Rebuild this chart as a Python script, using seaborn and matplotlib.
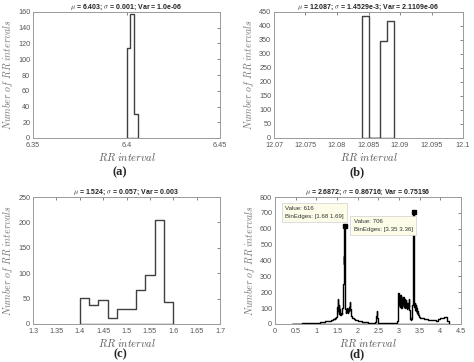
import numpy as np
import matplotlib
matplotlib.use("Agg")
import matplotlib.pyplot as plt
import seaborn as sns

sns.set_style("white")
plt.rcParams['font.family'] = ['Liberation Sans', 'DejaVu Sans']
plt.rcParams['mathtext.fontset'] = 'cm'

# ---- data ----
a_edges = [6.4000, 6.4018, 6.4027, 6.4041, 6.4060]
a_counts = [114, 158, 157, 31]

b_edges = [12.0840, 12.0851, 12.0869, 12.0880, 12.0890]
b_counts = [435, 0, 345, 418]

c_edges = [1.40, 1.42, 1.44, 1.46, 1.48, 1.50, 1.52, 1.54, 1.56, 1.58, 1.60]
c_counts = [51, 38, 47, 12, 30, 29, 67, 97, 204, 43]

d_seg_coarse1 = [2, 2, 3, 3, 3, 4, 4, 4, 5, 5, 6, 7, 8, 9, 11, 13, 16, 19, 22, 26]  # 0.40-1.40 step .05
d_seg_fine1 = [28, 30, 31, 33, 35, 34, 38, 40, 42, 45,
               60, 110, 155, 80, 120, 60, 95, 70, 55, 65,
               70, 65, 80, 100, 140, 250, 430, 380, 616, 150,
               95, 70, 80, 100, 75, 90, 70, 85, 100, 80,
               110, 140, 95, 70, 55, 48, 44, 40, 38, 36,
               34, 32, 30, 29, 28]  # 1.40-1.95 step .01
d_seg_coarse2 = [25, 22, 18, 15, 12, 10, 8, 6, 5]  # 1.95-2.40 step .05
d_seg_fine2 = [6, 8, 10, 14, 25, 50, 80, 40, 15, 8, 6, 5, 5, 4, 4]  # 2.40-2.55 step .01
d_seg_coarse3 = [4, 4, 5, 5, 5, 6, 7, 8]  # 2.55-2.95 step .05
d_seg_fine3 = [10, 20, 60, 195, 180,
               120, 170, 110, 185, 140, 175, 100, 160, 120, 150,
               170, 110, 140, 160, 100, 130, 150, 110, 125, 95,
               130, 100, 110, 140, 155, 90, 50, 30, 25, 40,
               30, 80, 120, 200, 420, 706, 140, 110, 130, 90,
               120, 80, 100, 70, 85, 60, 70, 55, 50, 45]  # 2.95-3.50 step .01
d_seg_coarse4 = [40, 35, 32, 30, 28, 27, 25, 24, 22, 30, 38, 35, 45, 20]  # 3.50-4.20 step .05

d_tips = [(1.685, 616, "Value: 616\nBinEdges: [1.68 1.69]"),
          (3.355, 706, "Value: 706\nBinEdges: [3.35 3.36]")]

titles = [r"$\mu$ = 6.403; $\sigma$ = 0.001; Var = 1.0e-06",
          r"$\mu$ = 12.087; $\sigma$ = 1.4529e-3; Var = 2.1109e-06",
          r"$\mu$ = 1.524; $\sigma$ = 0.057; Var = 0.003",
          r"$\mu$ = 2.6872; $\sigma$ = 0.86716; Var = 0.75196"]
captions = ["(a)", "(b)", "(c)", "(d)"]


def seg_edges(start, step, n):
    return [round(start + i * step, 4) for i in range(n)]


d_edges = (seg_edges(0.40, 0.05, len(d_seg_coarse1)) +
           seg_edges(1.40, 0.01, len(d_seg_fine1)) +
           seg_edges(1.95, 0.05, len(d_seg_coarse2)) +
           seg_edges(2.40, 0.01, len(d_seg_fine2)) +
           seg_edges(2.55, 0.05, len(d_seg_coarse3)) +
           seg_edges(2.95, 0.01, len(d_seg_fine3)) +
           seg_edges(3.50, 0.05, len(d_seg_coarse4)) + [4.20])
d_counts = d_seg_coarse1 + d_seg_fine1 + d_seg_coarse2 + d_seg_fine2 + d_seg_coarse3 + d_seg_fine3 + d_seg_coarse4

W, H = 474, 362
fig = plt.figure(figsize=(W / 100, H / 100), dpi=100)


def add_ax(x0, y0, x1, y1):
    return fig.add_axes([x0 / W, 1 - y1 / H, (x1 - x0) / W, (y1 - y0) / H])


axes = [add_ax(33, 12, 220, 138), add_ax(274, 12, 463, 138),
        add_ax(33, 197, 220, 324), add_ax(275, 197, 461, 324)]

datasets = [(a_edges, a_counts, "#404040", 1.0),
            (b_edges, b_counts, "#404040", 1.0),
            (c_edges, c_counts, "#404040", 1.0),
            (d_edges, d_counts, "black", 1.0)]

xlims = [(6.35, 6.45), (12.07, 12.1), (1.3, 1.7), (0, 4.5)]
xticks = [[6.35, 6.4, 6.45],
          [12.07, 12.075, 12.08, 12.085, 12.09, 12.095, 12.1],
          [1.3, 1.35, 1.4, 1.45, 1.5, 1.55, 1.6, 1.65, 1.7],
          [0, 0.5, 1, 1.5, 2, 2.5, 3, 3.5, 4, 4.5]]
xticklabels = [["6.35", "6.4", "6.45"],
               ["12.07", "12.075", "12.08", "12.085", "12.09", "12.095", "12.1"],
               ["1.3", "1.35", "1.4", "1.45", "1.5", "1.55", "1.6", "1.65", "1.7"],
               ["0", "0.5", "1", "1.5", "2", "2.5", "3", "3.5", "4", "4.5"]]
ylims = [(0, 160), (0, 450), (0, 250), (0, 800)]
ysteps = [20, 50, 50, 100]

for i, ax in enumerate(axes):
    edges, counts, col, lw = datasets[i]
    centers = [(edges[k] + edges[k + 1]) / 2 for k in range(len(counts))]
    sns.histplot(x=centers, weights=counts, bins=edges, element="step", fill=True,
                 color=col, linewidth=lw, ax=ax)
    for coll in ax.collections:
        coll.set_facecolor("none")
        coll.set_edgecolor(col)
        coll.set_linewidth(lw)
    ax.set_xlim(*xlims[i])
    ax.set_ylim(*ylims[i])
    ax.set_xticks(xticks[i])
    ax.set_xticklabels(xticklabels[i])
    ax.set_yticks(np.arange(0, ylims[i][1] + 1, ysteps[i]))
    ax.tick_params(direction="in", length=2, width=0.5, labelsize=5.2, colors="#555555",
                   top=True, right=True)
    ax.tick_params(axis="x", pad=3)
    ax.tick_params(axis="y", pad=2)
    for s in ax.spines.values():
        s.set_color("#9a9a9a")
        s.set_linewidth(0.7)
    ax.set_title(titles[i], fontsize=5.0, fontweight="bold", pad=2, color="#222222")
    ax.set_xlabel(r"$RR\ interval$", fontsize=7.6, color="#555555", labelpad=1)
    ax.set_ylabel(r"$Number\ of\ RR\ intervals$", fontsize=7.2, color="#777777", labelpad=2)

tip_pos = [(0.25, 700), (1.9, 622)]
for (x, y, txt), (tx, ty) in zip(d_tips, tip_pos):
    axes[3].plot([x], [y], marker="s", color="black", markersize=3.5)
    axes[3].text(tx, ty, txt, fontsize=4.4, color="#333333", va="center", ha="left",
                 linespacing=1.7,
                 bbox=dict(boxstyle="square,pad=0.5", fc="#fcfce8", ec="#d0d0d0", lw=0.5))

cap_pos = [(120, 172), (357, 172), (120, 354), (357, 354)]
for (cx, cy), cap in zip(cap_pos, captions):
    fig.text(cx / W, 1 - cy / H, cap, ha="center", va="center", fontsize=9,
             fontweight="bold", family="Liberation Serif")

fig.savefig("out.png", dpi=100)
